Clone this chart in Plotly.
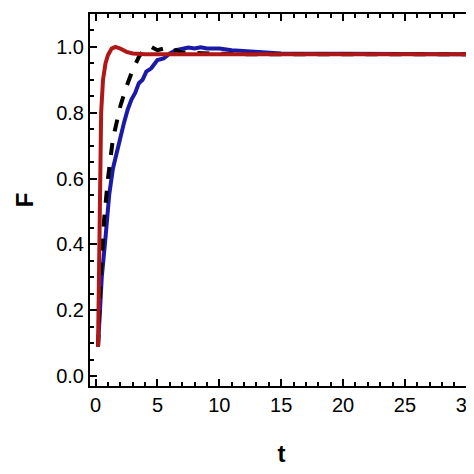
import plotly.graph_objects as go

t_red = [0.2, 0.3, 0.45, 0.6, 0.8, 1.0, 1.3, 1.6, 2.0, 2.5, 3.0, 4.0, 10, 20, 30]
F_red = [0.09, 0.45, 0.8, 0.9, 0.95, 0.975, 0.995, 1.0, 0.995, 0.985, 0.98, 0.978, 0.978, 0.978, 0.978]

t_blk = [0.2, 0.4, 0.7, 1.0, 1.4, 2.0, 2.5, 3.0, 3.5, 4.0, 4.5, 5.0, 5.5, 6.0, 6.5, 7.0, 8.0, 9.0, 10, 12, 15, 20, 30]
F_blk = [0.09, 0.3, 0.48, 0.6, 0.72, 0.82, 0.88, 0.93, 0.97, 0.995, 1.0, 0.99, 0.995, 0.985, 0.99, 0.983, 0.982, 0.98, 0.979, 0.978, 0.978, 0.978, 0.978]

t_blu = [0.2, 0.5, 0.8, 1.1, 1.4, 1.7, 2.0, 2.3, 2.6, 2.9, 3.2, 3.5, 3.8, 4.1, 4.5, 5.0, 5.5, 6.0, 6.5, 7.0, 7.5, 8.0, 8.5, 9.0, 10, 11, 12, 13, 14, 15, 20, 30]
F_blu = [0.09, 0.3, 0.42, 0.55, 0.63, 0.68, 0.73, 0.77, 0.81, 0.84, 0.86, 0.89, 0.9, 0.925, 0.935, 0.96, 0.965, 0.98, 0.99, 0.995, 0.998, 0.995, 0.999, 0.995, 0.995, 0.99, 0.988, 0.985, 0.982, 0.98, 0.979, 0.978]

fig = go.Figure()
fig.add_trace(go.Scatter(x=t_blu, y=F_blu, mode="lines", line=dict(color="#1a1aa6", width=4)))
fig.add_trace(go.Scatter(x=t_blk, y=F_blk, mode="lines", line=dict(color="black", width=4, dash="dash")))
fig.add_trace(go.Scatter(x=t_red, y=F_red, mode="lines", line=dict(color="#b01818", width=4)))

ax = dict(showline=True, linecolor="black", linewidth=2, mirror="ticks", ticks="inside",
          ticklen=7, tickwidth=1.5, tickcolor="black", showgrid=False, zeroline=False,
          tickfont=dict(family="Liberation Sans", size=20, color="black"),
          minor=dict(ticks="inside", ticklen=4, tickcolor="black"))
fig.update_xaxes(**ax, range=[-0.45, 30.5], tickvals=[0, 5, 10, 15, 20, 25, 30], minor_dtick=1,
                 title=dict(text="<b>t</b>", font=dict(family="Liberation Sans", size=24, color="black"), standoff=30))
fig.update_yaxes(**ax, range=[-0.03, 1.1], tickvals=[0, 0.2, 0.4, 0.6, 0.8, 1.0], tickformat=".1f",
                 minor_dtick=0.05,
                 title=dict(text="<b>F</b>", font=dict(family="Liberation Sans", size=24, color="black"), standoff=16))
fig.update_layout(width=474, height=474, showlegend=False, plot_bgcolor="white", paper_bgcolor="white",
                  margin=dict(l=82, r=4, t=5, b=96))
fig.write_html("out.html")
